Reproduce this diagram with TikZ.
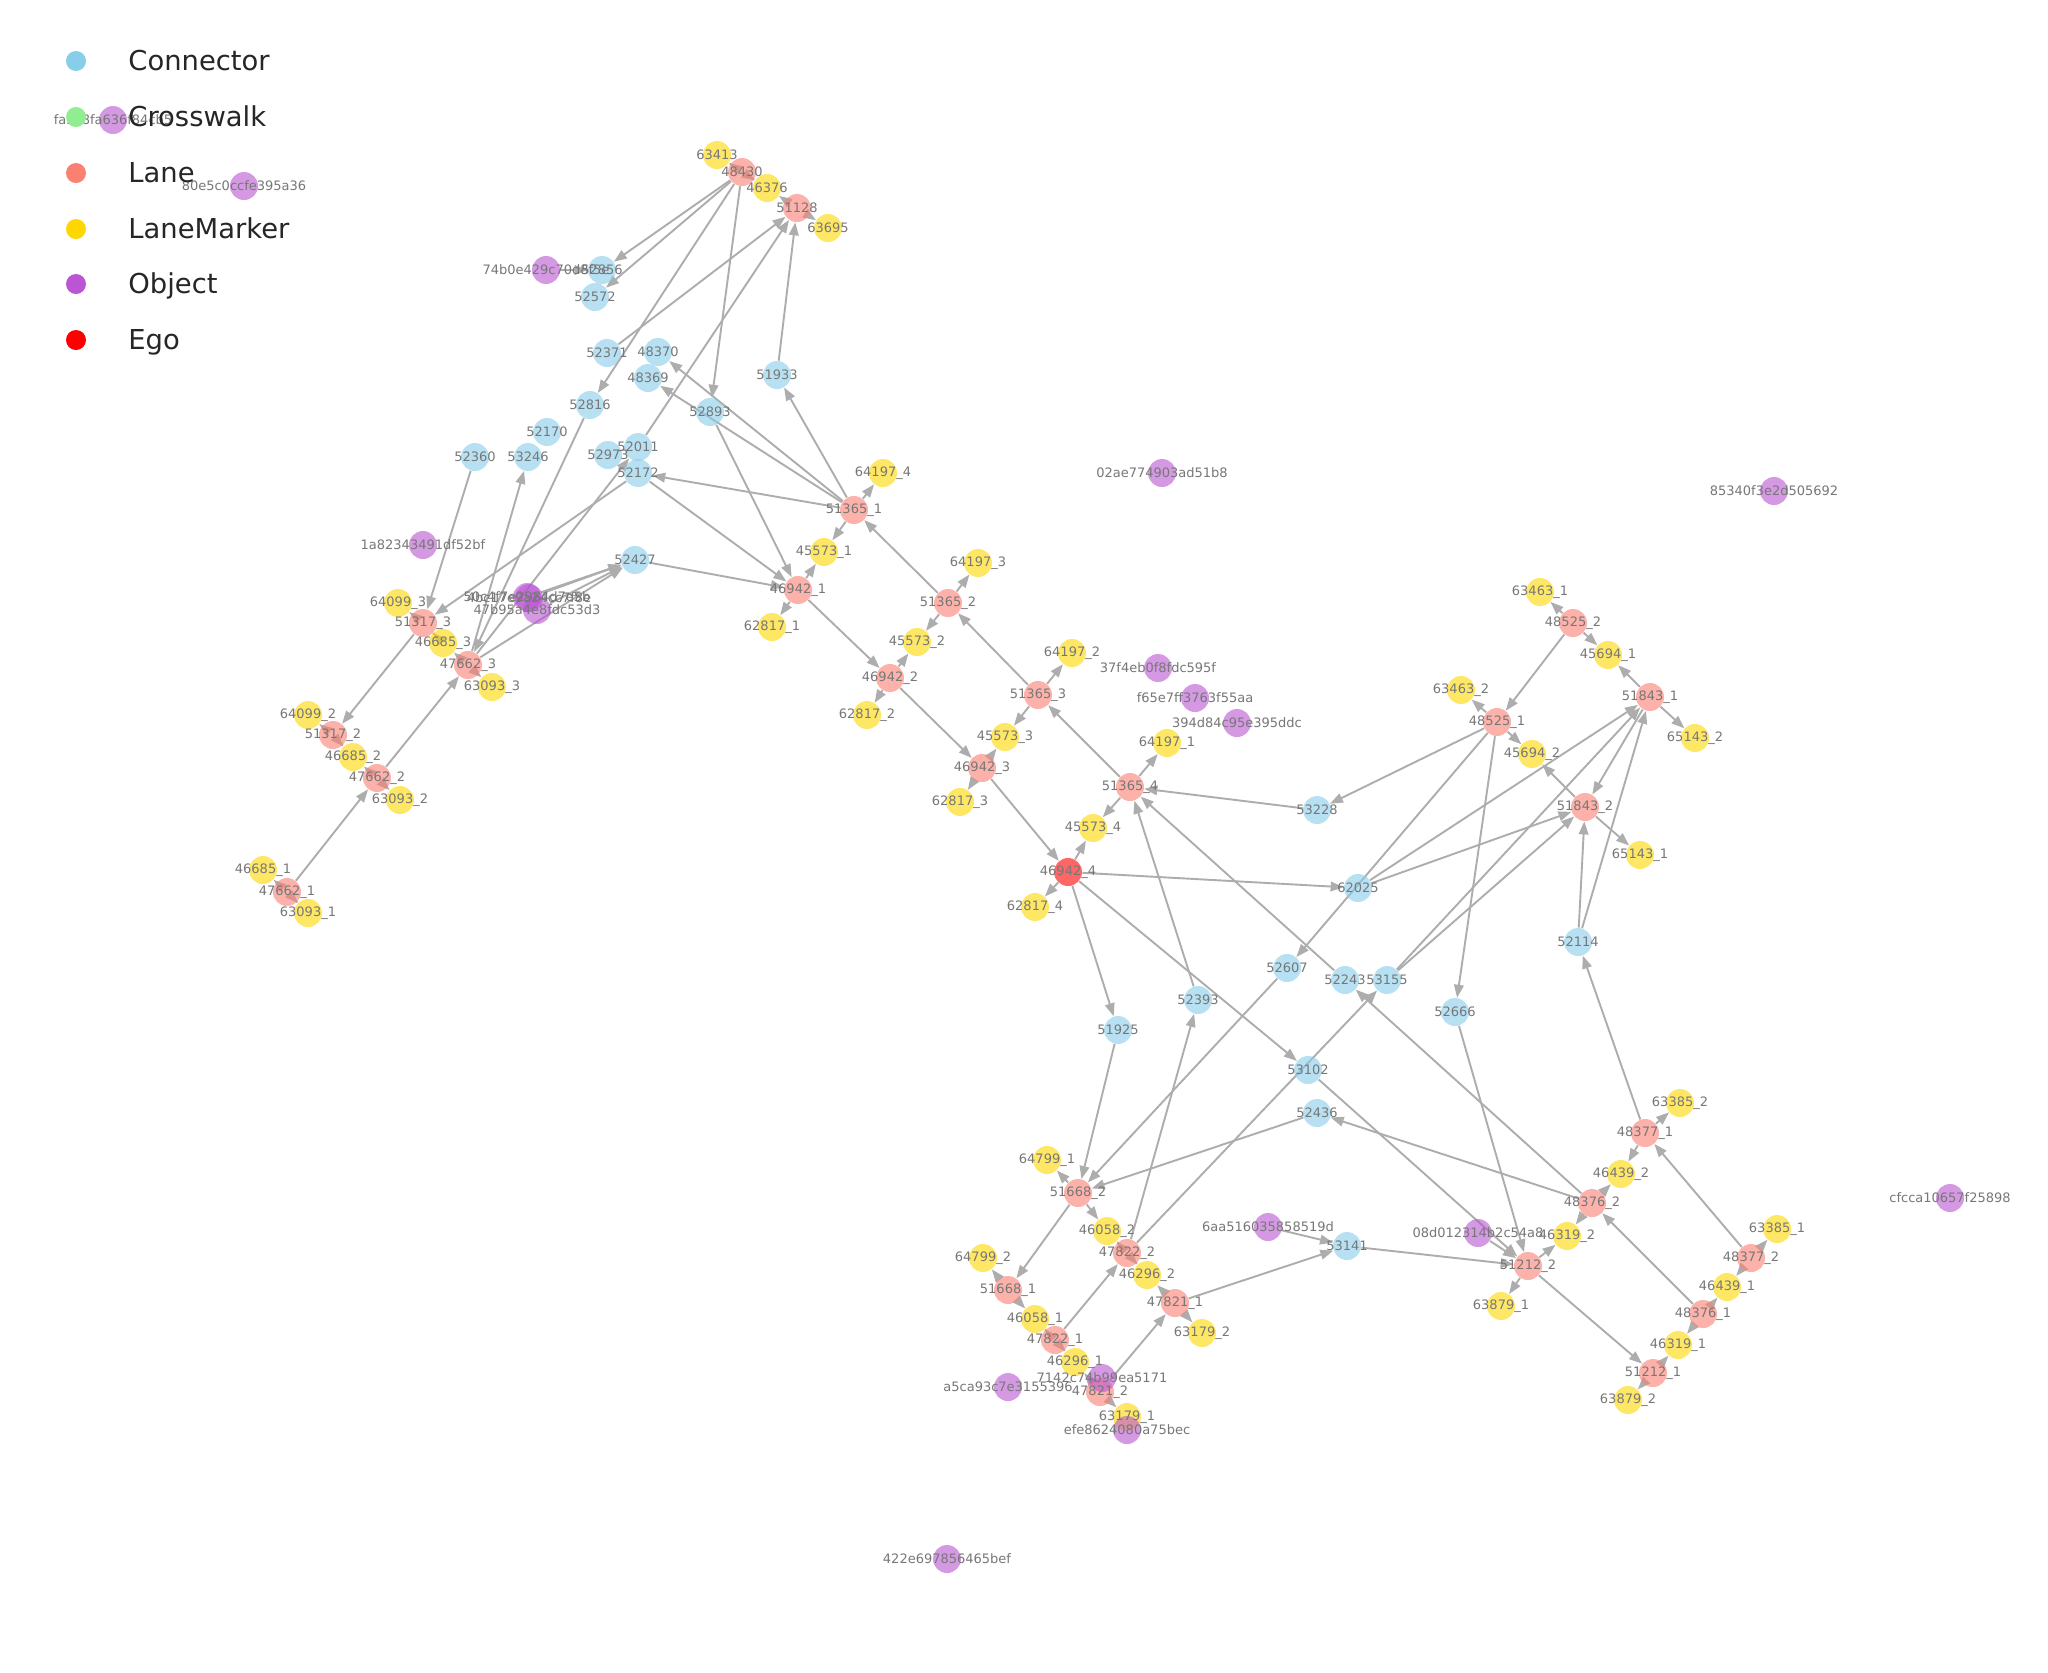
\documentclass[tikz,border=0pt]{standalone}
\usepackage{fontspec}
\setmainfont{DejaVu Sans}
\usetikzlibrary{arrows.meta}
\pgfdeclarelayer{bg}
\pgfsetlayers{bg,main}
\definecolor{cconn}{HTML}{87CEEB}
\definecolor{clane}{HTML}{FA8072}
\definecolor{cmark}{HTML}{FFD700}
\definecolor{cobj}{HTML}{BA55D3}
\definecolor{cego}{HTML}{FF0000}
\definecolor{ccross}{HTML}{90EE90}
\definecolor{cedge}{HTML}{ADADAD}
\definecolor{clbl}{HTML}{777777}
\begin{document}
\begin{tikzpicture}[x=0.5pt,y=-0.5pt,
  gn/.style={circle,minimum size=14pt,inner sep=0pt,draw=none,fill opacity=0.6},
  c/.style={gn,fill=cconn}, ln/.style={gn,fill=clane}, lm/.style={gn,fill=cmark},
  ob/.style={gn,fill=cobj}, eg/.style={gn,fill=cego},
  lbl/.style={font=\fontsize{6.5}{7}\selectfont,text=clbl,inner sep=0pt},
  ed/.style={draw=cedge,line width=0.95pt,-{Triangle[length=6.5pt,width=4.8pt]}},
  legdot/.style={circle,minimum size=10pt,inner sep=0pt,draw=none},
  legtxt/.style={anchor=base west,font=\fontsize{13.7}{16}\selectfont,text=black!85,inner sep=0pt}]
\useasboundingbox (0,0) rectangle (2048,1672);
\def\NL{%
c/52856/602/270/52856,
c/52572/595/297/52572,
c/52371/607/353/52371,
c/48370/658/352/48370,
c/48369/648/378/48369,
c/51933/777/375/51933,
c/52816/590/405/52816,
c/52893/710/412/52893,
c/52170/547/432/52170,
c/52360/475/457/52360,
c/53246/528/457/53246,
c/52973/608/455/52973,
c/52011/638/447/52011,
c/52172/638/473/52172,
c/52427/635/560/52427,
c/53228/1317/810/53228,
c/62025/1358/888/62025,
c/52114/1578/942/52114,
c/52607/1287/968/52607,
c/52243/1345/980/52243,
c/53155/1387/980/53155,
c/52666/1455/1012/52666,
c/52393/1198/1000/52393,
c/51925/1118/1030/51925,
c/53102/1308/1070/53102,
c/52436/1317/1113/52436,
c/53141/1347/1246/53141,
lm/63413/717/155/63413,
lm/46376/767/188/46376,
lm/63695/828/228/63695,
lm/64197-4/883/473/64197\_4,
lm/45573-1/824/552/45573\_1,
lm/62817-1/772/627/62817\_1,
lm/64197-3/978/563/64197\_3,
lm/45573-2/917/642/45573\_2,
lm/62817-2/867/715/62817\_2,
lm/64197-2/1072/653/64197\_2,
lm/45573-3/1005/737/45573\_3,
lm/62817-3/960/802/62817\_3,
lm/64197-1/1167/743/64197\_1,
lm/45573-4/1093/828/45573\_4,
lm/62817-4/1035/907/62817\_4,
lm/64099-3/398/603/64099\_3,
lm/46685-3/443/643/46685\_3,
lm/63093-3/492/687/63093\_3,
lm/64099-2/308/715/64099\_2,
lm/46685-2/353/757/46685\_2,
lm/63093-2/400/800/63093\_2,
lm/46685-1/263/870/46685\_1,
lm/63093-1/308/913/63093\_1,
lm/63463-1/1540/592/63463\_1,
lm/45694-1/1608/655/45694\_1,
lm/63463-2/1461/690/63463\_2,
lm/45694-2/1532/754/45694\_2,
lm/65143-2/1695/738/65143\_2,
lm/65143-1/1640/855/65143\_1,
lm/64799-1/1047/1160/64799\_1,
lm/46058-2/1107/1231/46058\_2,
lm/46296-2/1147/1275/46296\_2,
lm/63179-2/1202/1333/63179\_2,
lm/64799-2/983/1258/64799\_2,
lm/46058-1/1035/1319/46058\_1,
lm/46296-1/1075/1362/46296\_1,
lm/63179-1/1127/1417/63179\_1,
lm/63385-2/1680/1103/63385\_2,
lm/46439-2/1621/1174/46439\_2,
lm/46319-2/1567/1236/46319\_2,
lm/63879-1/1501/1306/63879\_1,
lm/63385-1/1777/1229/63385\_1,
lm/46439-1/1727/1287/46439\_1,
lm/46319-1/1678/1345/46319\_1,
lm/63879-2/1628/1400/63879\_2,
ln/48430/742/172/48430,
ln/51128/797/208/51128,
ln/51365-1/854/510/51365\_1,
ln/46942-1/798/590/46942\_1,
ln/51365-2/948/603/51365\_2,
ln/46942-2/890/678/46942\_2,
ln/51365-3/1038/695/51365\_3,
ln/46942-3/982/768/46942\_3,
ln/51365-4/1130/787/51365\_4,
eg/46942-4/1068/872/46942\_4,
ln/51317-3/423/623/51317\_3,
ln/47662-3/468/665/47662\_3,
ln/51317-2/333/735/51317\_2,
ln/47662-2/377/778/47662\_2,
ln/47662-1/287/892/47662\_1,
ln/48525-2/1573/623/48525\_2,
ln/48525-1/1497/722/48525\_1,
ln/51843-1/1650/697/51843\_1,
ln/51843-2/1585/807/51843\_2,
ln/51668-2/1078/1193/51668\_2,
ln/51668-1/1008/1290/51668\_1,
ln/47822-2/1127/1253/47822\_2,
ln/47822-1/1055/1340/47822\_1,
ln/47821-1/1175/1303/47821\_1,
ln/47821-2/1100/1392/47821\_2,
ln/48377-1/1645/1133/48377\_1,
ln/48376-2/1592/1203/48376\_2,
ln/51212-2/1528/1266/51212\_2,
ln/48377-2/1751/1258/48377\_2,
ln/48376-1/1703/1314/48376\_1,
ln/51212-1/1653/1373/51212\_1,
ob/o1/113/120/fa3c8fa636f84cb5,
ob/o2/244/186/80e5c0ccfe395a36,
ob/o3/546/270/74b0e429c70d8f5e,
ob/o4/423/545/1a82343491df52bf,
ob/o5/527/597/50c4f7e2984d7e5b,
ob/o6/529/598/4bc17e9a24cc7f8e,
ob/o7/537/610/47b95a4e8fdc53d3,
ob/o8/1162/473/02ae774903ad51b8,
ob/o9/1774/491/85340f3e2d505692,
ob/o10/1158/668/37f4eb0f8fdc595f,
ob/o11/1195/698/f65e7ff3763f55aa,
ob/o12/1237/723/394d84c95e395ddc,
ob/o13/1268/1227/6aa516035858519d,
ob/o14/1478/1233/08d012314b2c54a8,
ob/o15/1950/1198/cfcca10657f25898,
ob/o16/1102/1378/7142c74b99ea5171,
ob/o17/1008/1387/a5ca93c7e3155396,
ob/o18/1127/1430/efe8624080a75bec,
ob/o19/947/1559/422e697856465bef}
% circles
\foreach \ty/\nm/\px/\py/\tx in \NL {
  \edef\tmp{\noexpand\node[\ty] (\nm) at (\px,\py) {};}\tmp
}
% edges
\begin{pgfonlayer}{bg}
\fill[white] (0,0) rectangle (2048,1672);
\foreach \a/\b in {
48430/63413, 48430/46376, 51128/46376, 51128/63695,
51365-1/64197-4, 51365-1/45573-1, 46942-1/45573-1, 46942-1/62817-1,
51365-2/64197-3, 51365-2/45573-2, 46942-2/45573-2, 46942-2/62817-2,
51365-3/64197-2, 51365-3/45573-3, 46942-3/45573-3, 46942-3/62817-3,
51365-4/64197-1, 51365-4/45573-4, 46942-4/45573-4, 46942-4/62817-4,
51317-3/64099-3, 51317-3/46685-3, 47662-3/46685-3, 47662-3/63093-3,
51317-2/64099-2, 51317-2/46685-2, 47662-2/46685-2, 47662-2/63093-2,
47662-1/46685-1, 47662-1/63093-1,
48525-2/63463-1, 48525-2/45694-1, 48525-1/63463-2, 48525-1/45694-2,
51843-1/45694-1, 51843-1/65143-2, 51843-2/45694-2, 51843-2/65143-1,
51668-2/64799-1, 51668-2/46058-2, 51668-1/64799-2, 51668-1/46058-1,
47822-2/46058-2, 47822-2/46296-2, 47822-1/46058-1, 47822-1/46296-1,
47821-1/46296-2, 47821-1/63179-2, 47821-2/46296-1, 47821-2/63179-1,
48377-1/63385-2, 48377-1/46439-2, 48376-2/46439-2, 48376-2/46319-2,
51212-2/46319-2, 51212-2/63879-1,
48377-2/63385-1, 48377-2/46439-1, 48376-1/46439-1, 48376-1/46319-1,
51212-1/46319-1, 51212-1/63879-2,
51317-3/51317-2, 47662-1/47662-2, 47662-2/47662-3,
51365-4/51365-3, 51365-3/51365-2, 51365-2/51365-1,
46942-1/46942-2, 46942-2/46942-3, 46942-3/46942-4,
48525-2/48525-1, 51843-1/51843-2, 51668-2/51668-1, 47822-1/47822-2,
47821-2/47821-1, 48377-2/48377-1, 48376-1/48376-2, 51212-2/51212-1,
48430/52856, 48430/52572, 48430/52816, 48430/52893,
52371/51128, 52011/51128, 51933/51128,
51365-1/51933, 51365-1/48370, 51365-1/48369, 51365-1/52172,
52893/46942-1, 52172/46942-1, 52427/46942-1,
52172/51317-3, 52360/51317-3,
47662-3/53246, 47662-3/52011, 52816/47662-3, 47662-3/52427,
o5/52427, o6/52427, o7/52427, o3/52856,
53228/51365-4, 52393/51365-4, 52243/51365-4,
46942-4/62025, 46942-4/51925, 46942-4/53102,
48525-1/53228, 48525-1/52607, 48525-1/52666,
62025/51843-1, 62025/51843-2, 53155/51843-1, 53155/51843-2,
52114/51843-1, 52114/51843-2, 48377-1/52114,
48376-2/52243, 48376-2/52436,
52436/51668-2, 52607/51668-2, 51925/51668-2,
47822-2/52393, 47822-2/53155,
53102/51212-2, 52666/51212-2, 53141/51212-2, o14/51212-2,
47821-1/53141, o13/53141}
  \draw[ed] (\a) -- (\b);
\end{pgfonlayer}
% labels
\foreach \ty/\nm/\px/\py/\tx in \NL {
  \node[lbl] (l\nm) at (\nm) {\tx};
}
% legend
\foreach \cl/\yy/\tx in {cconn/61/Connector, ccross/117/Crosswalk, clane/173/Lane, cmark/229/LaneMarker, cobj/284/Object, cego/340/Ego} {
  \node[legdot,fill=\cl] (leg\tx) at (76,\yy) {};
  \node[legtxt] (legt\tx) at (128,\yy+9) {\tx};
}
\end{tikzpicture}
\end{document}
